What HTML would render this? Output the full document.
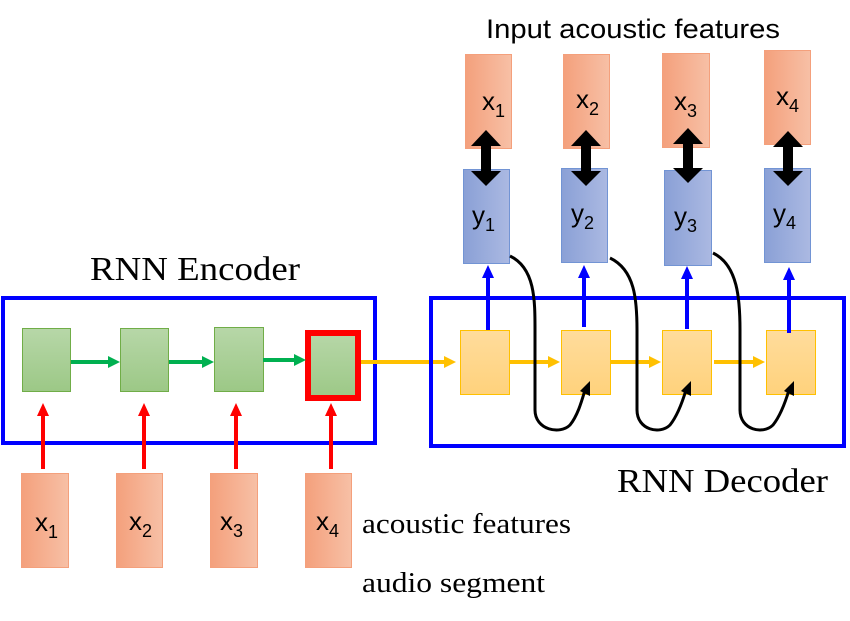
<!DOCTYPE html>
<html><head><meta charset="utf-8"><style>html,body{margin:0;padding:0;background:#fff}svg{display:block}</style></head>
<body>
<svg width="850" height="621" viewBox="0 0 850 621" xmlns="http://www.w3.org/2000/svg">
<defs>
<linearGradient id="og" x1="0" x2="1" y1="0" y2="0"><stop offset="0" stop-color="#f4a07c"/><stop offset="1" stop-color="#f7c0a6"/></linearGradient>
<linearGradient id="bg" x1="0" x2="1" y1="0" y2="0"><stop offset="0" stop-color="#8aa0d6"/><stop offset="1" stop-color="#abb9e2"/></linearGradient>
<linearGradient id="gg" x1="0" x2="0" y1="0" y2="1"><stop offset="0" stop-color="#b7d7a8"/><stop offset="1" stop-color="#9cc886"/></linearGradient>
<linearGradient id="yg" x1="0" x2="0" y1="0" y2="1"><stop offset="0" stop-color="#ffdc9c"/><stop offset="1" stop-color="#ffd27c"/></linearGradient>
</defs>
<g font-family="Liberation Sans, sans-serif" font-size="22">
<text x="486" y="38" font-size="27" textLength="294" lengthAdjust="spacingAndGlyphs">Input acoustic features</text>

<rect x="3" y="298" width="372" height="145" fill="none" stroke="#0000ff" stroke-width="4"/>
<text x="90" y="280" font-family="Liberation Serif, serif" font-size="34" textLength="210" lengthAdjust="spacingAndGlyphs">RNN Encoder</text>
<rect x="22.5" y="328.5" width="48" height="63" fill="url(#gg)" stroke="#70ad47"/>
<rect x="120.5" y="328.5" width="48" height="63" fill="url(#gg)" stroke="#70ad47"/>
<rect x="214.5" y="327.5" width="49" height="64" fill="url(#gg)" stroke="#70ad47"/>
<rect x="308" y="333" width="50" height="65" fill="url(#gg)" stroke="#ff0000" stroke-width="6"/>
<g stroke="#00b050" stroke-width="4" fill="#00b050">
<line x1="71" y1="362" x2="110" y2="362"/><polygon points="108,356 120,362 108,368" stroke="none"/>
<line x1="169" y1="362" x2="204" y2="362"/><polygon points="202,356 214,362 202,368" stroke="none"/>
<line x1="263" y1="360" x2="296" y2="360"/><polygon points="294,354 306,360 294,366" stroke="none"/>
</g>
<g stroke="#ff0000" stroke-width="4" fill="#ff0000">
<line x1="43" y1="469" x2="43" y2="414"/><polygon points="37,416 43,403 49,416" stroke="none"/>
<line x1="144" y1="469" x2="144" y2="414"/><polygon points="138,416 144,403 150,416" stroke="none"/>
<line x1="236" y1="469" x2="236" y2="414"/><polygon points="230,416 236,403 242,416" stroke="none"/>
<line x1="331" y1="469" x2="331" y2="414"/><polygon points="325,416 331,403 337,416" stroke="none"/>
</g>
<g stroke="#f4a07c">
<rect x="21.5" y="473.5" width="47" height="94" fill="url(#og)"/>
<rect x="116.5" y="473.5" width="46" height="94" fill="url(#og)"/>
<rect x="210.5" y="473.5" width="47" height="94" fill="url(#og)"/>
<rect x="305.5" y="473.5" width="46" height="94" fill="url(#og)"/>
</g>
<g font-size="26" fill="#000">
<text x="35" y="531">x<tspan font-size="18" dy="7">1</tspan></text>
<text x="129" y="530">x<tspan font-size="18" dy="7">2</tspan></text>
<text x="220" y="530">x<tspan font-size="18" dy="7">3</tspan></text>
<text x="316" y="530">x<tspan font-size="18" dy="7">4</tspan></text>
</g>
<text x="362" y="533" font-family="Liberation Serif, serif" font-size="28" textLength="209" lengthAdjust="spacingAndGlyphs">acoustic features</text>
<text x="362" y="592" font-family="Liberation Serif, serif" font-size="28" textLength="183" lengthAdjust="spacingAndGlyphs">audio segment</text>

<line x1="361" y1="362" x2="446" y2="362" stroke="#ffc000" stroke-width="4"/>
<polygon points="444,356 456,362 444,368" fill="#ffc000"/>

<rect x="431" y="298" width="413" height="148" fill="none" stroke="#0000ff" stroke-width="4"/>
<text x="617" y="492" font-family="Liberation Serif, serif" font-size="34" textLength="211" lengthAdjust="spacingAndGlyphs">RNN Decoder</text>
<g stroke="#ffc000">
<rect x="460.5" y="330.5" width="49" height="64" fill="url(#yg)"/>
<rect x="561.5" y="330.5" width="49" height="64" fill="url(#yg)"/>
<rect x="662.5" y="330.5" width="49" height="64" fill="url(#yg)"/>
<rect x="766.5" y="330.5" width="49" height="64" fill="url(#yg)"/>
</g>
<g stroke="#ffc000" stroke-width="4" fill="#ffc000">
<line x1="510" y1="362" x2="550" y2="362"/><polygon points="548,356 560,362 548,368" stroke="none"/>
<line x1="610" y1="362" x2="651" y2="362"/><polygon points="649,356 661,362 649,368" stroke="none"/>
<line x1="714" y1="362" x2="755" y2="362"/><polygon points="753,356 765,362 753,368" stroke="none"/>
</g>
<g stroke="#0000ff" stroke-width="4" fill="#0000ff">
<line x1="488" y1="330" x2="488" y2="276"/><polygon points="482,278 488,265 494,278" stroke="none"/>
<line x1="584" y1="327" x2="584" y2="276"/><polygon points="578,278 584,265 590,278" stroke="none"/>
<line x1="687" y1="329" x2="687" y2="277"/><polygon points="681,279 687,266 693,279" stroke="none"/>
<line x1="789" y1="333" x2="789" y2="278"/><polygon points="783,280 789,267 795,280" stroke="none"/>
</g>
<g stroke="#7294d4">
<rect x="463.5" y="169.5" width="46" height="94" fill="url(#bg)"/>
<rect x="561.5" y="168.5" width="46" height="94" fill="url(#bg)"/>
<rect x="664.5" y="170.5" width="47" height="95" fill="url(#bg)"/>
<rect x="764.5" y="168.5" width="46" height="94" fill="url(#bg)"/>
</g>
<g font-size="26">
<text x="472" y="224">y<tspan font-size="18" dy="7">1</tspan></text>
<text x="571" y="222">y<tspan font-size="18" dy="7">2</tspan></text>
<text x="674" y="225">y<tspan font-size="18" dy="7">3</tspan></text>
<text x="773" y="222">y<tspan font-size="18" dy="7">4</tspan></text>
</g>
<g stroke="#f4a07c">
<rect x="465.5" y="54.5" width="46" height="94" fill="url(#og)"/>
<rect x="563.5" y="54.5" width="46" height="94" fill="url(#og)"/>
<rect x="662.5" y="53.5" width="47" height="94" fill="url(#og)"/>
<rect x="764.5" y="50.5" width="46" height="94" fill="url(#og)"/>
</g>
<g font-size="26">
<text x="482" y="110">x<tspan font-size="18" dy="7">1</tspan></text>
<text x="576" y="108">x<tspan font-size="18" dy="7">2</tspan></text>
<text x="674" y="110">x<tspan font-size="18" dy="7">3</tspan></text>
<text x="776" y="105">x<tspan font-size="18" dy="7">4</tspan></text>
</g>
<g fill="#000">
<polygon points="486,130 501,146 491,146 491,171 501,171 486,186 471,171 481,171 481,146 471,146"/>
<polygon points="586,130 601,146 591,146 591,171 601,171 586,186 571,171 581,171 581,146 571,146"/>
<polygon points="688,128 703,144 693,144 693,168 703,168 688,183 673,168 683,168 683,144 673,144"/>
<polygon points="788,131 803,147 793,147 793,171 803,171 788,186 773,171 783,171 783,147 773,147"/>
</g>
<g fill="none" stroke="#000" stroke-width="3">
<path d="M510,256 C535,268 535,300 535,330 L535,410 C535,430 560,435 570,425 C578,415 582,400 585,390"/>
<path d="M610,258 C635,270 637,300 637,330 L637,410 C637,430 660,435 670,425 C678,415 683,400 686,390"/>
<path d="M713,253 C738,265 740,300 740,330 L740,410 C740,430 763,435 773,425 C781,415 786,400 789,390"/>
</g>
<g fill="#000">
<polygon points="580,391 590,381 590,396"/>
<polygon points="681,391 691,381 691,396"/>
<polygon points="784,391 794,381 794,396"/>
</g>
</g>
</svg>
</body></html>
